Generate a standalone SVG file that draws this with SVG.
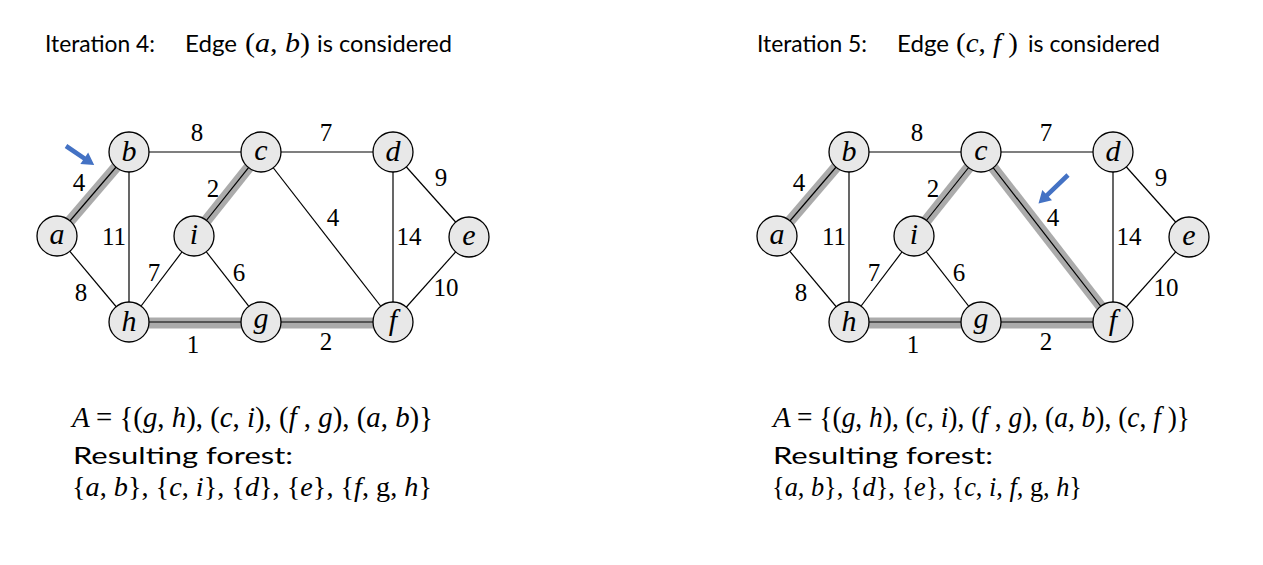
<svg xmlns="http://www.w3.org/2000/svg" width="1263" height="565" viewBox="0 0 1263 565">
<style>
.bg{fill:#ffffff}
.edge{stroke:#000;stroke-width:1.2;fill:none}
.hl{stroke:#ababab;stroke-width:11;fill:none}
.node circle{fill:#e8e8e8;stroke:#000;stroke-width:1.3}
.nl{font-family:"Liberation Serif","Times New Roman",serif;font-style:italic;font-size:30px;text-anchor:middle;fill:#000}
.wl{font-family:"Liberation Serif","Times New Roman",serif;font-size:25px;text-anchor:middle;fill:#000}
.sans{font-family:Lato,"Open Sans","Liberation Sans",sans-serif;fill:#000}
.math{font-family:"Liberation Serif","Times New Roman",serif;fill:#000}
.it{font-style:italic}
.arrow{fill:#4472c4}
</style>
<rect class="bg" x="0" y="0" width="1263" height="565"/>

<!-- Titles -->
<g id="title-left">
<text class="sans" x="45" y="52" font-size="24" textLength="110" lengthAdjust="spacingAndGlyphs">Iteration 4:</text>
<text class="sans" x="185" y="52" font-size="24" textLength="52" lengthAdjust="spacingAndGlyphs">Edge</text>
<text class="math" x="245" y="52" font-size="27" textLength="65" lengthAdjust="spacingAndGlyphs">(<tspan class="it">a</tspan>, <tspan class="it">b</tspan>)</text>
<text class="sans" x="317" y="52" font-size="24" textLength="135" lengthAdjust="spacingAndGlyphs">is considered</text>
</g>
<g id="title-right">
<text class="sans" x="757" y="52" font-size="24" textLength="110" lengthAdjust="spacingAndGlyphs">Iteration 5:</text>
<text class="sans" x="897" y="52" font-size="24" textLength="52" lengthAdjust="spacingAndGlyphs">Edge</text>
<text class="math" x="956" y="52" font-size="27" textLength="62" lengthAdjust="spacingAndGlyphs">(<tspan class="it">c</tspan>, <tspan class="it">f</tspan> )</text>
<text class="sans" x="1028" y="52" font-size="24" textLength="132" lengthAdjust="spacingAndGlyphs">is considered</text>
</g>

<!-- LEFT GRAPH -->
<g id="left-graph">
<g id="left-connectors">
<line class="hl" x1="57" y1="236" x2="129" y2="152"/>
<line class="hl" x1="261" y1="152" x2="194" y2="236"/>
<line class="hl" x1="129" y1="323" x2="261" y2="323"/>
<line class="hl" x1="261" y1="323" x2="393" y2="323"/>
<line class="edge" x1="57" y1="236" x2="129" y2="152"/>
<line class="edge" x1="57" y1="236" x2="129" y2="322"/>
<line class="edge" x1="129" y1="152" x2="261" y2="152"/>
<line class="edge" x1="129" y1="152" x2="129" y2="322"/>
<line class="edge" x1="261" y1="152" x2="393" y2="152"/>
<line class="edge" x1="261" y1="152" x2="194" y2="236"/>
<line class="edge" x1="261" y1="152" x2="393" y2="322"/>
<line class="edge" x1="393" y1="152" x2="393" y2="322"/>
<line class="edge" x1="393" y1="152" x2="469" y2="237"/>
<line class="edge" x1="469" y1="237" x2="393" y2="322"/>
<line class="edge" x1="194" y1="236" x2="129" y2="322"/>
<line class="edge" x1="194" y1="236" x2="261" y2="322"/>
<line class="edge" x1="129" y1="322" x2="261" y2="322"/>
<line class="edge" x1="261" y1="322" x2="393" y2="322"/>
</g>
<g id="left-weights">
<text class="wl" x="197" y="141">8</text>
<text class="wl" x="326" y="141">7</text>
<text class="wl" x="79" y="191">4</text>
<text class="wl" x="213" y="197">2</text>
<text class="wl" x="114" y="245">11</text>
<text class="wl" x="333" y="226">4</text>
<text class="wl" x="409" y="245">14</text>
<text class="wl" x="441" y="186">9</text>
<text class="wl" x="154" y="281">7</text>
<text class="wl" x="239" y="281">6</text>
<text class="wl" x="81" y="301">8</text>
<text class="wl" x="446" y="296">10</text>
<text class="wl" x="193" y="353">1</text>
<text class="wl" x="326" y="350">2</text>
</g>
<g id="L-a" class="node"><circle cx="57" cy="236" r="20"/><text class="nl" x="57" y="244">a</text></g>
<g id="L-b" class="node"><circle cx="129" cy="152" r="20"/><text class="nl" x="129" y="161">b</text></g>
<g id="L-c" class="node"><circle cx="261" cy="152" r="20"/><text class="nl" x="261" y="160">c</text></g>
<g id="L-d" class="node"><circle cx="393" cy="152" r="20"/><text class="nl" x="393" y="161">d</text></g>
<g id="L-e" class="node"><circle cx="469" cy="237" r="20"/><text class="nl" x="469" y="245">e</text></g>
<g id="L-i" class="node"><circle cx="194" cy="236" r="20"/><text class="nl" x="194" y="244">i</text></g>
<g id="L-h" class="node"><circle cx="129" cy="322" r="20"/><text class="nl" x="129" y="331">h</text></g>
<g id="L-g" class="node"><circle cx="261" cy="322" r="20"/><text class="nl" x="261" y="328">g</text></g>
<g id="L-f" class="node"><circle cx="393" cy="322" r="20"/><text class="nl" x="393" y="330">f</text></g>
<path id="L-arrow" class="arrow" transform="translate(66,146) rotate(34)" d="M0,-2.3 L22,-2.3 L22,-7 L34,0 L22,7 L22,2.3 L0,2.3 Z"/>
</g>

<!-- RIGHT GRAPH -->
<g id="right-graph" transform="translate(720,0)">
<g id="right-connectors">
<line class="hl" x1="57" y1="236" x2="129" y2="152"/>
<line class="hl" x1="261" y1="152" x2="194" y2="236"/>
<line class="hl" x1="129" y1="323" x2="261" y2="323"/>
<line class="hl" x1="261" y1="323" x2="393" y2="323"/>
<line class="hl" x1="261" y1="152" x2="393" y2="322"/>
<line class="edge" x1="57" y1="236" x2="129" y2="152"/>
<line class="edge" x1="57" y1="236" x2="129" y2="322"/>
<line class="edge" x1="129" y1="152" x2="261" y2="152"/>
<line class="edge" x1="129" y1="152" x2="129" y2="322"/>
<line class="edge" x1="261" y1="152" x2="393" y2="152"/>
<line class="edge" x1="261" y1="152" x2="194" y2="236"/>
<line class="edge" x1="261" y1="152" x2="393" y2="322"/>
<line class="edge" x1="393" y1="152" x2="393" y2="322"/>
<line class="edge" x1="393" y1="152" x2="469" y2="237"/>
<line class="edge" x1="469" y1="237" x2="393" y2="322"/>
<line class="edge" x1="194" y1="236" x2="129" y2="322"/>
<line class="edge" x1="194" y1="236" x2="261" y2="322"/>
<line class="edge" x1="129" y1="322" x2="261" y2="322"/>
<line class="edge" x1="261" y1="322" x2="393" y2="322"/>
</g>
<g id="right-weights">
<text class="wl" x="197" y="141">8</text>
<text class="wl" x="326" y="141">7</text>
<text class="wl" x="79" y="191">4</text>
<text class="wl" x="213" y="197">2</text>
<text class="wl" x="114" y="245">11</text>
<text class="wl" x="333" y="226">4</text>
<text class="wl" x="409" y="245">14</text>
<text class="wl" x="441" y="186">9</text>
<text class="wl" x="154" y="281">7</text>
<text class="wl" x="239" y="281">6</text>
<text class="wl" x="81" y="301">8</text>
<text class="wl" x="446" y="296">10</text>
<text class="wl" x="193" y="353">1</text>
<text class="wl" x="326" y="350">2</text>
</g>
<g id="R-a" class="node"><circle cx="57" cy="236" r="20"/><text class="nl" x="57" y="244">a</text></g>
<g id="R-b" class="node"><circle cx="129" cy="152" r="20"/><text class="nl" x="129" y="161">b</text></g>
<g id="R-c" class="node"><circle cx="261" cy="152" r="20"/><text class="nl" x="261" y="160">c</text></g>
<g id="R-d" class="node"><circle cx="393" cy="152" r="20"/><text class="nl" x="393" y="161">d</text></g>
<g id="R-e" class="node"><circle cx="469" cy="237" r="20"/><text class="nl" x="469" y="245">e</text></g>
<g id="R-i" class="node"><circle cx="194" cy="236" r="20"/><text class="nl" x="194" y="244">i</text></g>
<g id="R-h" class="node"><circle cx="129" cy="322" r="20"/><text class="nl" x="129" y="331">h</text></g>
<g id="R-g" class="node"><circle cx="261" cy="322" r="20"/><text class="nl" x="261" y="328">g</text></g>
<g id="R-f" class="node"><circle cx="393" cy="322" r="20"/><text class="nl" x="393" y="330">f</text></g>
<path id="R-arrow" class="arrow" transform="translate(348,175) rotate(136)" d="M0,-2.3 L29,-2.3 L29,-7 L41,0 L29,7 L29,2.3 L0,2.3 Z"/>
</g>

<!-- Formulas -->
<g id="text-left">
<text class="math it" x="72" y="427" font-size="29">A</text>
<text class="math" x="96" y="427" font-size="29" textLength="337" lengthAdjust="spacingAndGlyphs">= {(<tspan class="it">g</tspan>, <tspan class="it">h</tspan>), (<tspan class="it">c</tspan>, <tspan class="it">i</tspan>), (<tspan class="it">f</tspan> , <tspan class="it">g</tspan>), (<tspan class="it">a</tspan>, <tspan class="it">b</tspan>)}</text>
<text class="sans" x="73" y="464" font-size="24" textLength="220" lengthAdjust="spacingAndGlyphs">Resulting forest:</text>
<text class="math" x="72" y="496" font-size="27" textLength="360" lengthAdjust="spacingAndGlyphs">{<tspan class="it">a</tspan>, <tspan class="it">b</tspan>}, {<tspan class="it">c</tspan>, <tspan class="it">i</tspan>}, {<tspan class="it">d</tspan>}, {<tspan class="it">e</tspan>}, {<tspan class="it">f</tspan>, g, <tspan class="it">h</tspan>}</text>
</g>
<g id="text-right">
<text class="math it" x="773" y="427" font-size="29">A</text>
<text class="math" x="797" y="427" font-size="29" textLength="393" lengthAdjust="spacingAndGlyphs">= {(<tspan class="it">g</tspan>, <tspan class="it">h</tspan>), (<tspan class="it">c</tspan>, <tspan class="it">i</tspan>), (<tspan class="it">f</tspan> , <tspan class="it">g</tspan>), (<tspan class="it">a</tspan>, <tspan class="it">b</tspan>), (<tspan class="it">c</tspan>, <tspan class="it">f</tspan> )}</text>
<text class="sans" x="773" y="464" font-size="24" textLength="220" lengthAdjust="spacingAndGlyphs">Resulting forest:</text>
<text class="math" x="772" y="496" font-size="27" textLength="310" lengthAdjust="spacingAndGlyphs">{<tspan class="it">a</tspan>, <tspan class="it">b</tspan>}, {<tspan class="it">d</tspan>}, {<tspan class="it">e</tspan>}, {<tspan class="it">c</tspan>, <tspan class="it">i</tspan>, <tspan class="it">f</tspan>, g, <tspan class="it">h</tspan>}</text>
</g>
</svg>
